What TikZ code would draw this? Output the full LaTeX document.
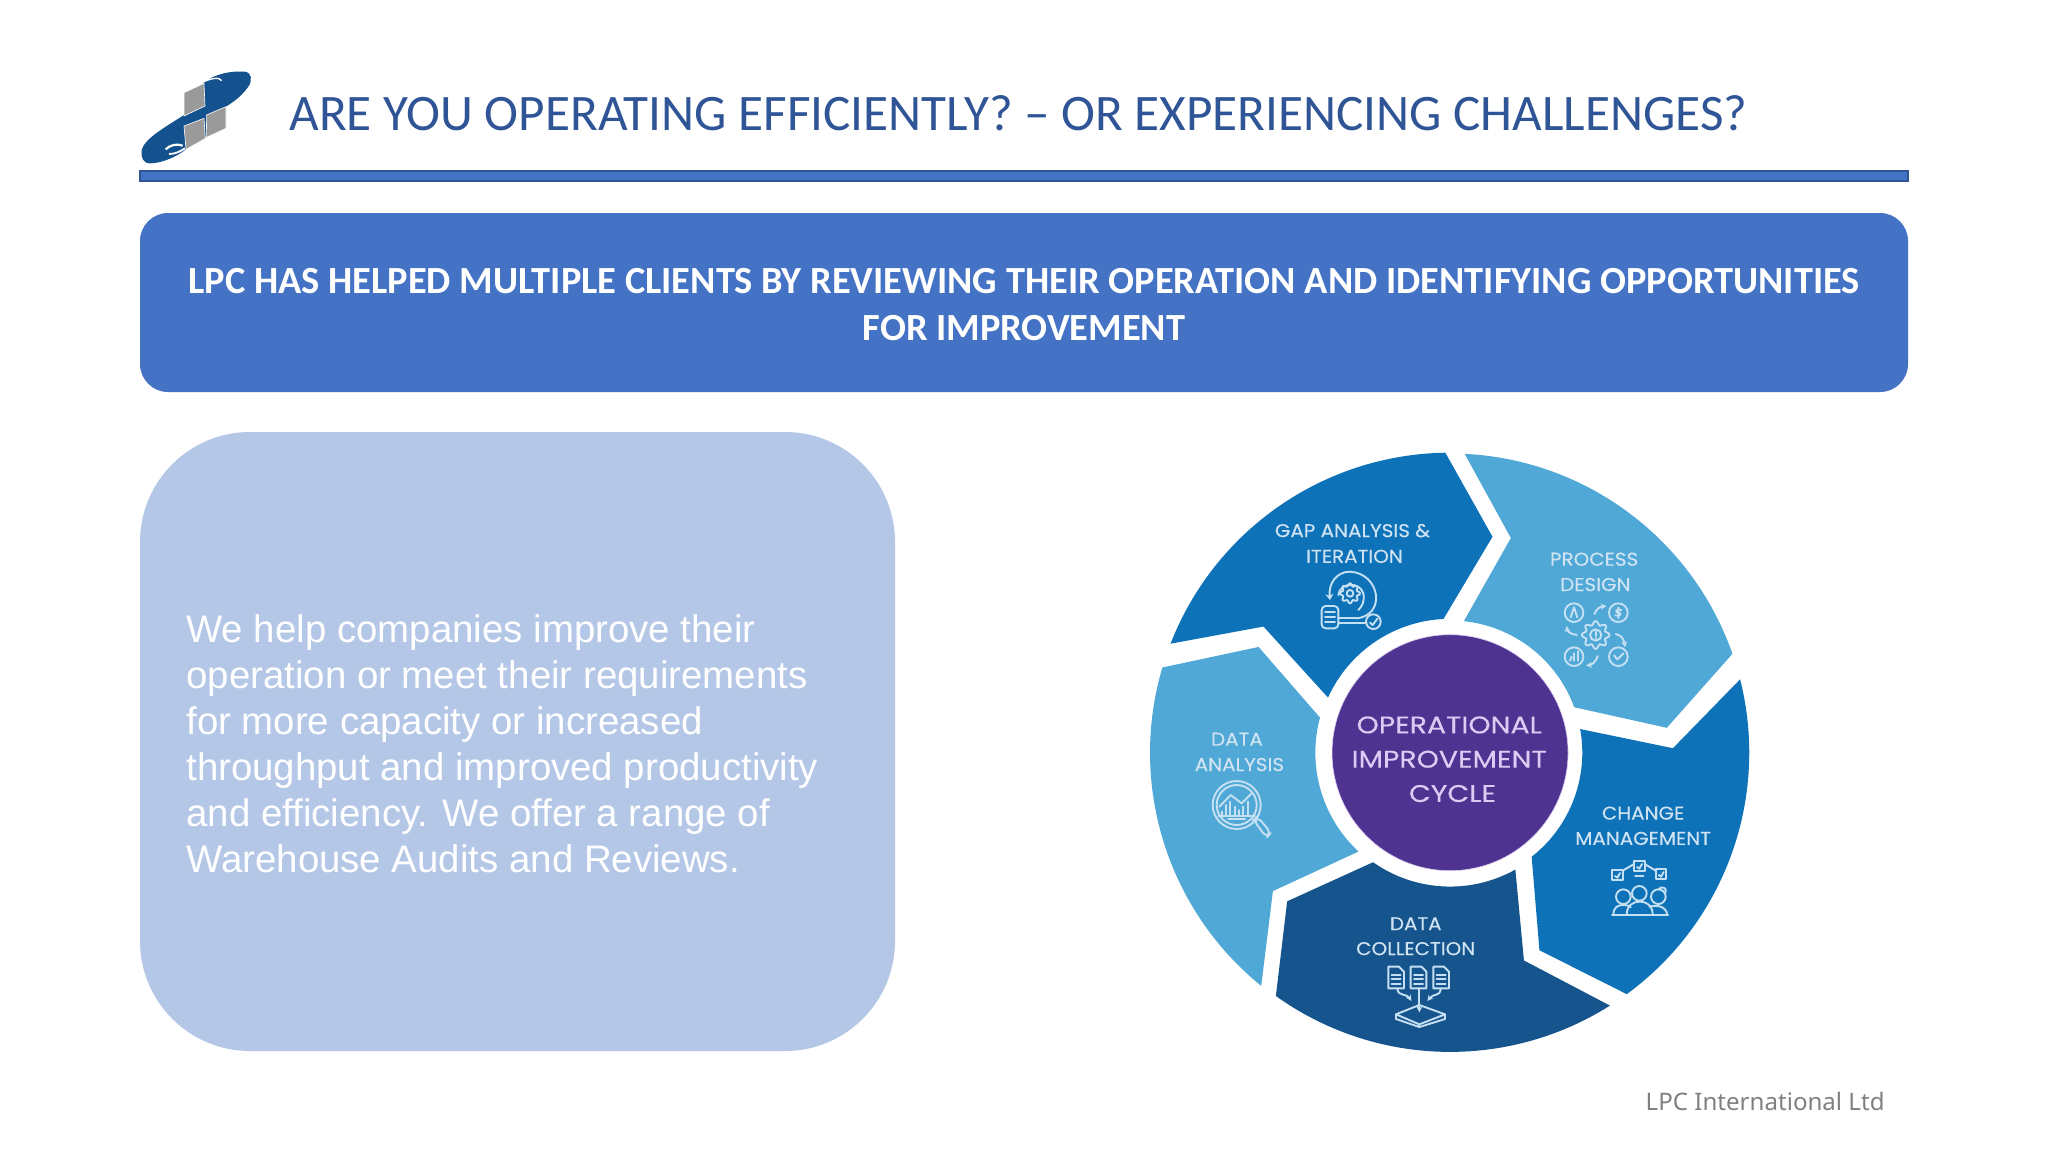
\documentclass[tikz,border=0pt]{standalone}
\usepackage{fontspec}
\usetikzlibrary{arrows.meta,calc}
\setmainfont{Liberation Sans}
\newfontfamily\carl{Carlito}
\newfontfamily\pop[FakeStretch=1.07,FakeBold=0.25]{Poppins}
\newfontfamily\pophub[FakeStretch=1.18,FakeBold=0.25]{Poppins}
\newfontfamily\foot{Noto Sans}
\definecolor{lblue}{HTML}{4472C4}
\definecolor{ldark}{HTML}{2F5597}
\definecolor{lpale}{HTML}{B4C7E7}
\definecolor{logob}{HTML}{14528F}
\definecolor{segA}{HTML}{0E72B9}
\definecolor{segB}{HTML}{4FA8D6}
\definecolor{segC}{HTML}{15548C}
\definecolor{purp}{HTML}{4F3391}
\definecolor{lilac}{HTML}{DCCBF3}
\definecolor{wtext}{HTML}{CFE3F2}
\definecolor{ictext}{HTML}{C5E0F2}
\definecolor{grayt}{HTML}{808080}
\definecolor{tile}{HTML}{9A9A9A}
\tikzset{
  seglabel/.style={font=\pop\fontsize{9.3}{11}\selectfont,text=wtext,inner sep=0pt,anchor=center},
  midlabel/.style={font=\pophub\fontsize{12}{14}\selectfont,text=lilac,inner sep=0pt,anchor=center},
  bodyline/.style={font=\fontsize{19.2}{23}\selectfont,text=white,inner sep=0pt,anchor=base west},
  bannerline/.style={font=\carl\bfseries\fontsize{19.2}{23}\selectfont,text=white,inner sep=0pt,anchor=base},
  iconline/.style={draw=ictext,line width=0.95pt,line cap=round,line join=round},
  iconscope/.style={x=0.16667pt,y=-0.16667pt},
  wheelscope/.style={x=0.2041pt,y=-0.2041pt},
  arrowline/.style={iconline,-{Stealth[length=3pt,width=3pt]}},
  tilebox/.style={fill=tile,draw=white,line width=0.3pt},
}
\newcommand{\gearshape}[3]{\draw[iconline] plot[domain=0:360,samples=65,smooth] ({#1+#3*(1+.16*cos(8*\x))*cos(\x)},{#2+#3*(1+.16*cos(8*\x))*sin(\x)});}
\begin{document}
\begin{tikzpicture}[x=0.5pt,y=-0.5pt]
\path[use as bounding box,fill=white] (0,0) rectangle (2048,1152);

% logo
\begin{scope}[shift={(120,50)},iconscope]
  \fill[logob] (65,300) .. controls (75,265) and (130,235) .. (192,195)
     -- (250,98)
     .. controls (285,72) and (330,62) .. (375,65)
     .. controls (395,68) and (398,90) .. (385,110)
     .. controls (360,145) and (335,158) .. (318,170)
     -- (256,265) -- (198,298)
     .. controls (170,320) and (125,340) .. (90,340)
     .. controls (68,340) and (62,320) .. (65,300) -- cycle;
  \draw[white,line width=0.7pt] (248,97) .. controls (270,85) and (300,80) .. (305,92);
  \draw[white,line width=1.1pt] (137,298) .. controls (150,285) and (170,280) .. (188,287);
  \draw[white,line width=0.9pt] (147,312) .. controls (165,312) and (180,305) .. (195,295);
  \fill[tilebox] (192,128)--(252,100)--(255,168)--(192,198)--cycle;
  \fill[tilebox] (192,228)--(252,205)--(256,265)--(198,298)--cycle;
  \fill[tilebox] (259,195)--(318,170)--(318,235)--(260,262)--cycle;
\end{scope}

% title, rule
\node[font=\carl\fontsize{25.6}{30}\selectfont,text=ldark,inner sep=0pt,anchor=base west] (title) at (289,130) {ARE YOU OPERATING EFFICIENTLY? – OR EXPERIENCING CHALLENGES?};
\path[fill=lblue,draw=ldark,line width=0.7pt] (140,171) rectangle (1908,181);

% banner
\path[fill=lblue,rounded corners=14pt] (140,213) rectangle (1908,392);
\node[bannerline] (ban1) at (1024,293) {LPC HAS HELPED MULTIPLE CLIENTS BY REVIEWING THEIR OPERATION AND IDENTIFYING OPPORTUNITIES};
\node[bannerline] (ban2) at (1024,340) {FOR IMPROVEMENT};

% left panel
\path[fill=lpale,rounded corners=55pt] (140,432) rectangle (895,1051);
\node[bodyline] (b1) at (186,642) {We help companies improve their};
\node[bodyline] (b2) at (186,688) {operation or meet their requirements};
\node[bodyline] (b3) at (186,734) {for more capacity or increased};
\node[bodyline] (b4) at (186,780) {throughput and improved productivity};
\node[bodyline] (b5) at (186,826) {and efficiency. We offer a range of};
\node[bodyline] (b6) at (186,872) {Warehouse Audits and Reviews.};

% wheel
\begin{scope}[shift={(1130,440)},wheelscope]
  \coordinate (c) at (784,766);
  \fill[segA] ($(c)+(201.3:735)$) arc[start angle=201.3,end angle=269.1,radius=735] -- (888,237) -- ($(c)+(267.2:328)$) arc[start angle=267.2,end angle=204.3,radius=328] -- (327,457) -- cycle;
  \fill[segB] ($(c)+(272.8:733)$) arc[start angle=272.8,end angle=340.7,radius=733] -- (1315,705) -- ($(c)+(339.9:324)$) arc[start angle=339.9,end angle=276,radius=324] -- (933,240) -- cycle;
  \fill[segA] ($(c)+(345.8:733)$) arc[start angle=345.8,end angle=413.8,radius=733] -- (1003,1250) -- ($(c)+(411.9:324)$) arc[start angle=411.9,end angle=349.7,radius=324] -- (1330,755) -- cycle;
  \fill[segC] ($(c)+(57.7:733)$) arc[start angle=57.7,end angle=125.6,radius=733] -- (385,1130) -- ($(c)+(125.1:328)$) arc[start angle=125.1,end angle=60.8,radius=328] -- (965,1275) -- cycle;
  \fill[segB] ($(c)+(129:735)$) arc[start angle=129,end angle=196.5,radius=735] -- (315,507) -- ($(c)+(195.1:330)$) arc[start angle=195.1,end angle=132.8,radius=330] -- (350,1105) -- cycle;
  \node[circle,fill=purp,draw=lilac,line width=0.3pt,minimum size=118pt,inner sep=0pt] (hub) at (c) {};
  \node[midlabel] (m1) at (782,698) {OPERATIONAL};
  \node[midlabel] (m2) at (782,782) {IMPROVEMENT};
  \node[midlabel] (m3) at (790,866) {CYCLE};
  \node[seglabel] (g1) at (545,222) {GAP ANALYSIS \&};
  \node[seglabel] (g2) at (550,285) {ITERATION};
  \node[seglabel] (p1) at (1137,292) {PROCESS};
  \node[seglabel] (p2) at (1140,354) {DESIGN};
  \node[seglabel] (a1) at (262,733) {DATA};
  \node[seglabel] (a2) at (268,795) {ANALYSIS};
  \node[seglabel] (h1) at (1257,914) {CHANGE};
  \node[seglabel] (h2) at (1257,976) {MANAGEMENT};
  \node[seglabel] (d1) at (700,1185) {DATA};
  \node[seglabel] (d2) at (700,1246) {COLLECTION};
\end{scope}

% icon: gap analysis
\begin{scope}[shift={(1300,560)},iconscope]
  \draw[iconline,-{Stealth[length=3pt,width=4pt]}] (170,175) .. controls (260,165) and (240,40) .. (150,35) .. controls (110,35) and (85,70) .. (90,120);
  \draw[iconline] (115,175) -- (170,175);
  \draw[iconline] (115,190) -- (200,190);
  \draw[iconline] (115,105) .. controls (120,65) and (180,65) .. (190,100) .. controls (195,125) and (185,140) .. (175,150);
  \gearshape{150}{100}{26}
  \draw[iconline] (150,100) circle[radius=10];
  \draw[iconline,rounded corners=2pt] (65,138) rectangle (115,205);
  \draw[iconline] (75,155) -- (105,155) (75,170) -- (105,170) (75,185) -- (105,185);
  \draw[iconline] (220,185) circle[radius=22];
  \draw[iconline] (210,188) -- (218,195) -- (232,176);
\end{scope}

% icon: process design
\begin{scope}[shift={(1550,590)},iconscope]
  \foreach \px/\py in {72/68,205/68,72/200,205/200}{\draw[iconline] (\px,\py) circle[radius=28];}
  \gearshape{137}{135}{36}
  \draw[iconline] (137,135) circle[radius=17];
  \draw[iconline] (137,125) -- (137,138) (137,144) -- (137,146);
  \draw[iconline] (72,52) -- (62,82) (72,52) -- (82,82);
  \draw[iconline] (205,52) -- (205,84) (214,60) .. controls (195,55) and (195,68) .. (205,68) .. controls (215,68) and (215,80) .. (196,76);
  \draw[iconline] (60,212) -- (65,200) (72,212) -- (72,190) (84,212) -- (84,184);
  \draw[iconline] (192,196) -- (202,208) -- (220,190);
  \draw[arrowline] (133,72) .. controls (140,55) and (150,50) .. (170,48);
  \draw[arrowline] (197,132) .. controls (215,135) and (222,150) .. (225,172);
  \draw[arrowline] (143,198) .. controls (138,215) and (125,225) .. (108,226);
  \draw[arrowline] (80,135) .. controls (62,132) and (52,125) .. (50,108);
\end{scope}

% icon: data analysis
\begin{scope}[shift={(1200,770)},iconscope]
  \draw[iconline] (110,105) circle[radius=72];
  \draw[iconline] (110,105) circle[radius=60];
  \draw[iconline,rounded corners=3pt] (160,150) -- (172,140) -- (213,188) -- (200,203) -- cycle;
  \foreach \bx/\by in {65/125,78/105,91/95,104/110,117/120,130/110,143/95}{\draw[iconline] (\bx,135) -- (\bx,\by);}
  \draw[iconline] (58,110) -- (92,75) -- (125,100) -- (155,70);
  \draw[iconline] (55,137) -- (165,137);
  \draw[iconline] (85,148) -- (135,148);
\end{scope}

% icon: change management
\begin{scope}[shift={(1590,850)},iconscope]
  \foreach \px/\py in {82/75,148/48,213/72}{
    \draw[iconline] ($(\px,\py)+(-16,-16)$) rectangle ($(\px,\py)+(16,16)$);
    \draw[iconline] ($(\px,\py)+(-7,3)$) -- ($(\px,\py)+(0,8)$) -- ($(\px,\py)+(8,-6)$);
  }
  \draw[iconline] (98,62) -- (132,42) (164,42) -- (197,62);
  \draw[iconline] (135,78) -- (160,78);
  \foreach \px/\py in {100/140,148/130,205/140}{\draw[iconline] (\px,\py) circle[radius=22];}
  \draw[iconline] (70,195) .. controls (70,170) and (85,165) .. (100,165) .. controls (112,165) and (118,168) .. (122,172);
  \draw[iconline] (110,195) .. controls (110,165) and (130,155) .. (148,155) .. controls (170,155) and (188,165) .. (188,195);
  \draw[iconline] (178,170) .. controls (195,165) and (228,165) .. (232,195);
  \draw[iconline] (66,195) -- (234,195);
  \draw[iconline] (205,118) .. controls (215,105) and (235,115) .. (225,130);
\end{scope}

% icon: data collection
\begin{scope}[shift={(1370,955)},iconscope]
  \foreach \dx in {55,122,190}{
    \draw[iconline] (\dx,35) -- ($(\dx,35)+(32,0)$) -- ($(\dx,35)+(47,15)$) -- ($(\dx,35)+(47,65)$) -- ($(\dx,35)+(0,65)$) -- cycle;
    \draw[iconline] ($(\dx,35)+(10,25)$) -- ($(\dx,35)+(37,25)$) ($(\dx,35)+(10,38)$) -- ($(\dx,35)+(37,38)$) ($(\dx,35)+(10,51)$) -- ($(\dx,35)+(37,51)$);
  }
  \draw[arrowline] (148,100) -- (148,172);
  \draw[arrowline] (82,102) .. controls (85,125) and (110,115) .. (124,138);
  \draw[arrowline] (212,102) .. controls (210,125) and (190,115) .. (172,138);
  \draw[iconline] (78,178) -- (148,150) -- (225,178) -- (148,208) -- cycle;
  \draw[iconline] (78,178) -- (78,192) -- (148,216) -- (225,192) -- (225,178);
  \draw[iconline] (148,208) -- (148,216);
\end{scope}

% footer
\node[font=\foot\fontsize{12.05}{15}\selectfont,text=grayt,inner sep=0pt,anchor=base east] (foot) at (1885,1110) {LPC International Ltd};
\end{tikzpicture}
\end{document}
